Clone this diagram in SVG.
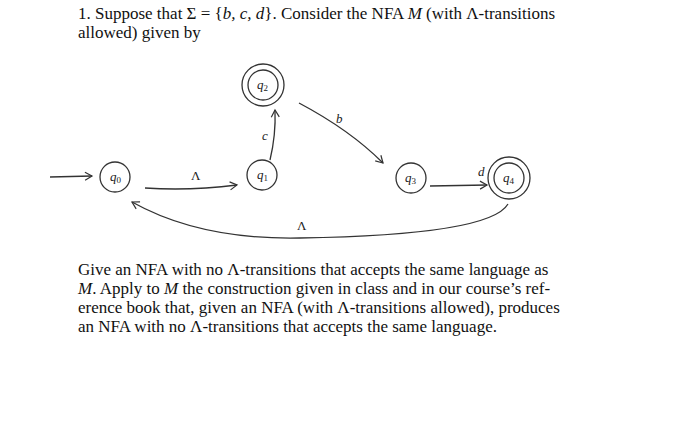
<svg xmlns="http://www.w3.org/2000/svg" width="700" height="440" viewBox="0 0 700 440">
<defs><marker id="a" markerWidth="10" markerHeight="10" refX="8" refY="5" orient="auto" markerUnits="userSpaceOnUse"><path d="M1,1 L8,5 L1,9" fill="none" stroke="#333" stroke-width="1.2"/></marker></defs>
<style>
.t{font-family:"Liberation Serif",serif;font-size:17px;fill:#111}
.s{fill:none;stroke:#333;stroke-width:1.3}
.l{font-family:"Liberation Serif",serif;font-size:13px;fill:#222}
.li{font-family:"Liberation Serif",serif;font-size:13px;font-style:italic;fill:#222}
.c{fill:none;stroke:#333;stroke-width:1.3}
</style>
<rect width="700" height="440" fill="#fff"/>
<text class="t" x="78" y="19">1. Suppose that Σ = {<tspan font-style="italic">b, c, d</tspan>}. Consider the NFA <tspan font-style="italic">M</tspan> (with Λ-transitions</text>
<text class="t" x="78" y="38">allowed) given by</text>
<g id="q0"><circle class="s" cx="115" cy="177" r="15"/><text class="li" x="110" y="181">q<tspan font-size="9" font-style="normal" dy="2">0</tspan></text></g>
<g id="q1"><circle class="s" cx="262" cy="175" r="15"/><text class="li" x="257" y="179">q<tspan font-size="9" font-style="normal" dy="2">1</tspan></text></g>
<g id="q2"><circle class="s" cx="263" cy="85" r="15"/><circle class="s" cx="263" cy="85" r="21"/><text class="li" x="257" y="89">q<tspan font-size="9" font-style="normal" dy="2">2</tspan></text></g>
<g id="q3"><circle class="s" cx="411" cy="178" r="15"/><text class="li" x="405" y="182">q<tspan font-size="9" font-style="normal" dy="2">3</tspan></text></g>
<g id="q4"><circle class="s" cx="509" cy="178" r="15"/><circle class="s" cx="509" cy="178" r="21"/><text class="li" x="503" y="182">q<tspan font-size="9" font-style="normal" dy="2">4</tspan></text></g>
<g id="edges">
<path class="c" d="M50,177 L92,176" marker-end="url(#a)"/>
<path class="c" d="M145,188 Q190,191 237,185" marker-end="url(#a)"/>
<path class="c" d="M270,160 Q276,135 275,110" marker-end="url(#a)"/>
<path class="c" d="M299,103 Q350,130 383,163" marker-end="url(#a)"/>
<path class="c" d="M430,186 L487,185" marker-end="url(#a)"/>
<path class="c" d="M508,204 Q490,235 300,238 Q200,240 132,202" marker-end="url(#a)"/>
<text class="l" x="191" y="180">Λ</text>
<text class="li" x="262" y="140">c</text>
<text class="li" x="336" y="123">b</text>
<text class="li" x="478" y="176">d</text>
<text class="l" x="297" y="230">Λ</text>
</g>
<text class="t" x="78" y="275">Give an NFA with no Λ-transitions that accepts the same language as</text>
<text class="t" x="78" y="294"><tspan font-style="italic">M</tspan>. Apply to <tspan font-style="italic">M</tspan> the construction given in class and in our course’s ref-</text>
<text class="t" x="78" y="313">erence book that, given an NFA (with Λ-transitions allowed), produces</text>
<text class="t" x="78" y="332">an NFA with no Λ-transitions that accepts the same language.</text>
</svg>
